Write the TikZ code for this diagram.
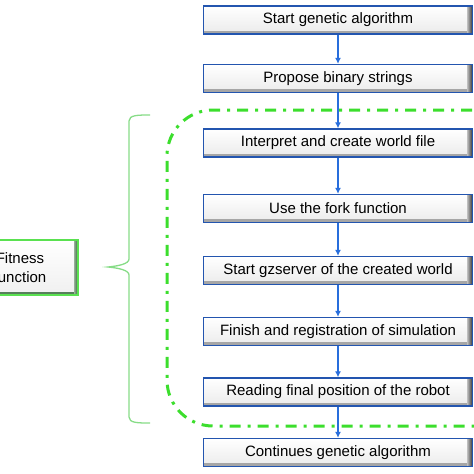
\documentclass[tikz,border=0pt]{standalone}
\usepackage{fontspec}
\setmainfont{Liberation Sans}
\usetikzlibrary{arrows.meta}
\definecolor{boxblue}{RGB}{35,85,175}
\definecolor{arrblue}{RGB}{40,110,220}
\definecolor{fitgreen}{RGB}{60,222,45}
\definecolor{bracegreen}{RGB}{135,220,135}
\definecolor{boxgreen}{RGB}{90,225,80}
\definecolor{darkgreen}{RGB}{45,95,50}
\tikzset{
  stepbox/.style={rectangle, draw=boxblue, line width=1.3pt,
    minimum width=269pt, minimum height=28pt, inner sep=0pt,
    font=\fontsize{15}{18}\selectfont,
    top color=white, bottom color=black!8,
    path picture={
      \fill[black!35] ([yshift=3.5pt]path picture bounding box.south west) rectangle (path picture bounding box.south east);
      \shade[left color=black!30, right color=black!80] ([xshift=-5pt]path picture bounding box.south east) rectangle (path picture bounding box.north east);
    }},
  fitbox/.style={rectangle, draw=boxgreen, line width=1.3pt,
    minimum width=116pt, minimum height=55pt, inner sep=0pt, align=center,
    font=\fontsize{15}{19}\selectfont,
    top color=white, bottom color=black!6,
    path picture={
      \fill[darkgreen!80] ([yshift=3.5pt]path picture bounding box.south west) rectangle (path picture bounding box.south east);
      \shade[left color=darkgreen!50, right color=darkgreen] ([xshift=-4pt]path picture bounding box.south east) rectangle (path picture bounding box.north east);
    }},
  flow/.style={draw=arrblue, line width=1.5pt, -{Latex[length=6pt,width=6pt]}},
}
\begin{document}
\begin{tikzpicture}[x=1pt,y=-1pt]
\useasboundingbox (0,0) rectangle (474,474);
% dash-dot region
\draw[fitgreen, line width=3pt, dash pattern=on 11pt off 7pt on 3pt off 7pt, rounded corners=46pt]
  (500,110) -- (167,110) -- (167,426) -- (500,426);
% brace
\draw[bracegreen, line width=1.3pt]
  (150,115) .. controls (138,115) and (129,115) .. (129,121) -- (129,259)
  .. controls (129,264) and (118,266) .. (108,267)
  .. controls (118,268) and (129,270) .. (129,275) -- (129,417)
  .. controls (129,423) and (138,423) .. (150,423);
% boxes
\node[stepbox] (b1) at (338,20) {Start genetic algorithm};
\node[stepbox] (b2) at (338,78.5) {Propose binary strings};
\node[stepbox] (b3) at (338,143) {Interpret and create world file};
\node[stepbox] (b4) at (338,208.5) {Use the fork function};
\node[stepbox] (b5) at (338,270.5) {Start gzserver of the created world};
\node[stepbox] (b6) at (338,331.5) {Finish and registration of simulation};
\node[stepbox] (b7) at (338,392) {Reading final position of the robot};
\node[stepbox] (b8) at (338,452.5) {Continues genetic algorithm};
\node[fitbox] (fit) at (20,267.5) {Fitness\\function};
% arrows
\draw[flow] (b1) -- (b2);
\draw[flow] (b2) -- (b3);
\draw[flow] (b3) -- (b4);
\draw[flow] (b4) -- (b5);
\draw[flow] (b5) -- (b6);
\draw[flow] (b6) -- (b7);
\draw[flow] (b7) -- (b8);
\end{tikzpicture}
\end{document}
